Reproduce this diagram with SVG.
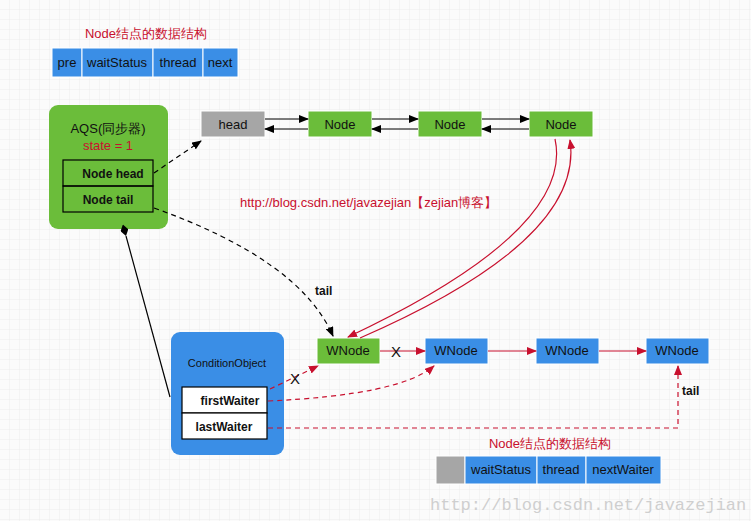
<svg xmlns="http://www.w3.org/2000/svg" width="751" height="521" viewBox="0 0 751 521">
<defs>
<pattern id="g" width="10" height="10" patternUnits="userSpaceOnUse"><path d="M10 0V10H0" fill="none" stroke="#ececec" stroke-width="1"/></pattern>
<marker id="ab" markerWidth="10" markerHeight="8" refX="9" refY="4" orient="auto" markerUnits="userSpaceOnUse"><path d="M0 0L10 4L0 8z" fill="#000"/></marker>
<marker id="ar" markerWidth="10" markerHeight="8" refX="9" refY="4" orient="auto" markerUnits="userSpaceOnUse"><path d="M0 0L10 4L0 8z" fill="#c8102e"/></marker>
<marker id="dm" markerWidth="12" markerHeight="8" refX="0" refY="4" orient="auto" markerUnits="userSpaceOnUse"><path d="M0 4L6 0L12 4L6 8z" fill="#000"/></marker>
<style>
text{font-family:"Liberation Sans",Arial,sans-serif;font-size:13px;fill:#111}
.b{font-weight:bold;font-size:12px}
.red{fill:#c8102e}
.blue{fill:#3a8ee6;stroke:#fff;stroke-width:1}
.grn{fill:#6bbd3a;stroke:#fff;stroke-width:1}
.cell{fill:#fff;stroke:#000;stroke-width:1.2}
.k{stroke:#000;stroke-width:1.2;fill:none}
.r{stroke:#c8102e;stroke-width:1.2;fill:none}
.d{stroke-dasharray:5 4}
</style>
</defs>
<rect width="751" height="521" fill="#fbfbfb"/>
<rect width="751" height="521" fill="url(#g)"/>
<g id="nodeStruct">
<text x="146" y="38" text-anchor="middle" class="red">Node结点的数据结构</text>
<rect class="blue" x="52" y="48" width="30" height="29"/><text x="67" y="67" text-anchor="middle">pre</text>
<rect class="blue" x="82" y="48" width="71" height="29"/><text x="117" y="67" text-anchor="middle">waitStatus</text>
<rect class="blue" x="153" y="48" width="50" height="29"/><text x="178" y="67" text-anchor="middle">thread</text>
<rect class="blue" x="203" y="48" width="35" height="29"/><text x="220" y="67" text-anchor="middle">next</text>
</g>
<g id="aqs">
<rect x="49" y="105" width="119" height="124" rx="9" fill="#6bbd3a"/>
<text x="108" y="133" text-anchor="middle">AQS(同步器)</text>
<text x="108" y="150" text-anchor="middle" class="red">state = 1</text>
<rect class="cell" x="63" y="160" width="90" height="26" fill="none" style="fill:none"/>
<rect class="k" x="63" y="186" width="90" height="26"/>
<text x="113" y="178" text-anchor="middle" class="b">Node head</text>
<text x="108" y="204" text-anchor="middle" class="b">Node tail</text>
</g>
<g id="head"><rect x="201" y="111" width="64" height="26" fill="#a6a6a6" stroke="#fff"/><text x="233" y="129" text-anchor="middle">head</text></g>
<g id="node1"><rect class="grn" x="308" y="111" width="64" height="26"/><text x="340" y="129" text-anchor="middle">Node</text></g>
<g id="node2"><rect class="grn" x="418" y="111" width="64" height="26"/><text x="450" y="129" text-anchor="middle">Node</text></g>
<g id="node3"><rect class="grn" x="529" y="111" width="64" height="26"/><text x="561" y="129" text-anchor="middle">Node</text></g>
<text x="240" y="207" class="red">http://blog.csdn.net/javazejian【zejian博客】</text>
<g id="cond">
<rect x="171" y="332" width="113" height="123" rx="9" fill="#3a8ee6"/>
<text x="227" y="367" text-anchor="middle" style="font-size:11px">ConditionObject</text>
<rect class="cell" x="182" y="387" width="85" height="26"/>
<rect class="cell" x="182" y="413" width="85" height="26"/>
<text x="230" y="405" text-anchor="middle" class="b">firstWaiter</text>
<text x="224" y="431" text-anchor="middle" class="b">lastWaiter</text>
</g>
<g id="w1"><rect class="grn" x="317" y="338" width="63" height="26"/><text x="348" y="355" text-anchor="middle">WNode</text></g>
<g id="w2"><rect class="blue" x="425" y="338" width="63" height="26"/><text x="456" y="355" text-anchor="middle">WNode</text></g>
<g id="w3"><rect class="blue" x="536" y="338" width="63" height="26"/><text x="567" y="355" text-anchor="middle">WNode</text></g>
<g id="w4"><rect class="blue" x="646" y="338" width="63" height="26"/><text x="677" y="355" text-anchor="middle">WNode</text></g>
<g id="wStruct">
<text x="550" y="448" text-anchor="middle" class="red">Node结点的数据结构</text>
<rect x="436" y="456" width="29" height="28" fill="#a6a6a6" stroke="#fff"/>
<rect class="blue" x="465" y="456" width="72" height="28"/><text x="501" y="474" text-anchor="middle">waitStatus</text>
<rect class="blue" x="537" y="456" width="49" height="28"/><text x="561" y="474" text-anchor="middle">thread</text>
<rect class="blue" x="586" y="456" width="75" height="28"/><text x="623" y="474" text-anchor="middle">nextWaiter</text>
</g>
<text x="430" y="510" style="font-family:'Liberation Mono',monospace;font-size:17px;fill:#cfcfcf">http://blog.csdn.net/javazejian</text>
<g id="connectors">
<path class="k" d="M265 119H308" marker-end="url(#ab)"/><path class="k" d="M308 129H265" marker-end="url(#ab)"/>
<path class="k" d="M372 119H418" marker-end="url(#ab)"/><path class="k" d="M418 129H372" marker-end="url(#ab)"/>
<path class="k" d="M482 119H529" marker-end="url(#ab)"/><path class="k" d="M529 129H482" marker-end="url(#ab)"/>
<path class="k d" d="M154 173L201 141" marker-end="url(#ab)"/>
<path class="k d" d="M154 208Q300 260 333 336" marker-end="url(#ab)"/>
<text x="315" y="295" class="b">tail</text>
<path class="k" d="M170 397L126 236" marker-end="url(#dm)"/>
<path class="r" d="M555 139Q575 230 348 337" marker-end="url(#ar)"/>
<path class="r" d="M360 338Q585 240 570 140" marker-end="url(#ar)"/>
<path class="r" d="M380 351H425" marker-end="url(#ar)"/>
<text x="391" y="357" style="font-size:15px">X</text>
<path class="r" d="M488 351H536" marker-end="url(#ar)"/>
<path class="r" d="M599 351H646" marker-end="url(#ar)"/>
<path class="r d" d="M270 389L318 366" marker-end="url(#ar)"/>
<text x="290" y="384" style="font-size:15px">X</text>
<path class="r d" d="M268 401Q400 395 434 366" marker-end="url(#ar)"/>
<path class="r d" d="M268 428H678V366" marker-end="url(#ar)"/>
<text x="682" y="395" class="b">tail</text>
</g>
</svg>
